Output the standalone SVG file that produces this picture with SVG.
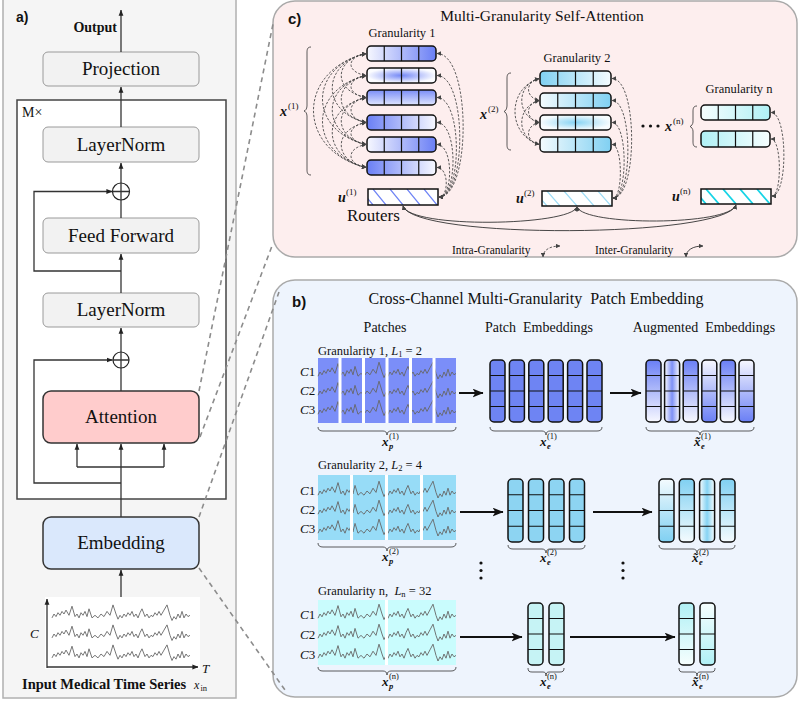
<svg xmlns="http://www.w3.org/2000/svg" width="800" height="702" viewBox="0 0 800 702">
<defs>
<style>
.serif{font-family:"Liberation Serif","Times New Roman",serif;fill:#111}
.sans{font-family:"Liberation Sans",Arial,sans-serif;font-weight:bold;fill:#111}
.box{fill:#f2f2f2;stroke:#9a9a9a;stroke-width:1}
.lbl{font-size:19px;text-anchor:middle}
.ln{stroke:#333;stroke-width:1.3;fill:none}
.dash{stroke:#4a4a4a;stroke-width:0.9;fill:none;stroke-dasharray:2.4 1.6}
.guide{stroke:#8c8c8c;stroke-width:1.6;fill:none;stroke-dasharray:5 4}
.tok{stroke:#111;stroke-width:1.5}
.div{stroke:#111;stroke-width:1.2;fill:none}
.wave{fill:none;stroke:#666;stroke-width:0.9}
.brace{fill:none;stroke:#333;stroke-width:0.8}
.m{font-family:"Liberation Serif","Times New Roman",serif;font-style:italic;font-weight:bold;fill:#111}
.big{stroke:#111;stroke-width:2;fill:none}
.inter{stroke:#333;stroke-width:0.9;fill:none}
</style>
<marker id="arr" viewBox="0 0 8 8" refX="7.5" refY="4" markerWidth="6" markerHeight="6" markerUnits="userSpaceOnUse" orient="auto"><path d="M0,0.8 L8,4 L0,7.2 z" fill="#222"/></marker>
<marker id="da" viewBox="0 0 6 6" refX="5.5" refY="3" markerWidth="4.5" markerHeight="4.5" markerUnits="userSpaceOnUse" orient="auto-start-reverse"><path d="M0,0 L6,3 L0,6 z" fill="#444"/></marker>
<marker id="bg" viewBox="0 0 10 8" refX="9.5" refY="4" markerWidth="11" markerHeight="9" markerUnits="userSpaceOnUse" orient="auto"><path d="M0,0 L10,4 L0,8 L2.5,4 z" fill="#111"/></marker>
<path id="wv" vector-effect="non-scaling-stroke" d="M0,3 L2,0 L4,2 L6,-1 L8,1 L10,-2 L12,0 L14,-3 L17,1 L20,-6 L23,2 L25,0 L27,3 L29,-1 L31,1 L33,-2 L35,2 L37,-4 L40,3 L43,1 L46,3 L49,0 L52,2 L55,-2 L58,1 L61,-7 L64,0 L66,4 L68,1 L70,3 L72,0 L74,2 L76,-1 L78,1 L80,-2 L82,2 L84,0 L86,3 L88,-1 L90,-4 L93,2 L95,0 L97,3 L99,1 L101,2 L103,-1 L105,1 L107,-2 L109,1 L112,-3 L115,-7 L118,1 L120,5 L122,2 L124,4 L126,0 L128,3 L130,-2 L132,3 L134,0 L136,2 L138,1"/>
<linearGradient id="bR"><stop offset="0" stop-color="#f7f8ff"/><stop offset="1" stop-color="#6a7ff5"/></linearGradient>
<linearGradient id="bL"><stop offset="0" stop-color="#6a7ff5"/><stop offset="1" stop-color="#f7f8ff"/></linearGradient>
<radialGradient id="bC"><stop offset="0" stop-color="#7488f6"/><stop offset="1" stop-color="#fbfcff"/></radialGradient>
<linearGradient id="bV" x2="0" y2="1"><stop offset="0" stop-color="#7a8df7"/><stop offset="1" stop-color="#dfe5fe"/></linearGradient>
<linearGradient id="bT" x2="0" y2="1"><stop offset="0" stop-color="#6a7ff5"/><stop offset="1" stop-color="#f7f8ff"/></linearGradient>
<linearGradient id="bB" x2="0" y2="1"><stop offset="0" stop-color="#f7f8ff"/><stop offset="1" stop-color="#6a7ff5"/></linearGradient>
<linearGradient id="bH"><stop offset="0" stop-color="#fbfcff"/><stop offset="0.5" stop-color="#7d90f6"/><stop offset="1" stop-color="#fbfcff"/></linearGradient>
<linearGradient id="cR"><stop offset="0" stop-color="#f4fbfe"/><stop offset="1" stop-color="#80d0f2"/></linearGradient>
<linearGradient id="cL"><stop offset="0" stop-color="#80d0f2"/><stop offset="1" stop-color="#f4fbfe"/></linearGradient>
<radialGradient id="cC"><stop offset="0" stop-color="#86d3f3"/><stop offset="1" stop-color="#f7fcfe"/></radialGradient>
<linearGradient id="cT" x2="0" y2="1"><stop offset="0" stop-color="#80d0f2"/><stop offset="1" stop-color="#f4fbfe"/></linearGradient>
<linearGradient id="cB" x2="0" y2="1"><stop offset="0" stop-color="#f4fbfe"/><stop offset="1" stop-color="#80d0f2"/></linearGradient>
<linearGradient id="cH"><stop offset="0" stop-color="#f7fcfe"/><stop offset="0.5" stop-color="#86d3f3"/><stop offset="1" stop-color="#f7fcfe"/></linearGradient>
<linearGradient id="nR"><stop offset="0" stop-color="#f6fefe"/><stop offset="1" stop-color="#b0f0f5"/></linearGradient>
<linearGradient id="nL"><stop offset="0" stop-color="#b0f0f5"/><stop offset="1" stop-color="#f6fefe"/></linearGradient>
<linearGradient id="nT" x2="0" y2="1"><stop offset="0" stop-color="#b0f0f5"/><stop offset="1" stop-color="#f6fefe"/></linearGradient>
<linearGradient id="nB" x2="0" y2="1"><stop offset="0" stop-color="#f6fefe"/><stop offset="1" stop-color="#b0f0f5"/></linearGradient>
<clipPath id="cu1"><rect x="368" y="189" width="70" height="16"/></clipPath>
<clipPath id="cu2"><rect x="542" y="191" width="70" height="15"/></clipPath>
<clipPath id="cun"><rect x="701" y="189" width="70" height="15"/></clipPath>
</defs>

<g id="panel-a">
<rect x="3" y="-2" width="233" height="700" fill="#f5f5f5" stroke="#b0b0b0" stroke-width="1.5"/>
<text x="16" y="22" class="sans" font-size="14">a)</text>
<rect x="17" y="100" width="209" height="399" fill="#ffffff" stroke="#444" stroke-width="1.5"/>
<text x="22" y="117" class="serif" font-size="14">M×</text>
</g>
<g id="panel-c">
<rect x="273" y="1" width="524" height="256" rx="22" fill="#fdeeee" stroke="#aaaaaa" stroke-width="1.5"/>
<text x="288" y="24" class="sans" font-size="15">c)</text>
<text x="542" y="21" class="serif" font-size="15.5" text-anchor="middle">Multi-Granularity Self-Attention</text>
</g>
<g id="panel-b">
<rect x="273" y="280" width="524" height="417" rx="22" fill="#eef4fd" stroke="#aaaaaa" stroke-width="1.5"/>
<text x="292" y="307" class="sans" font-size="15">b)</text>
<text x="536" y="304" class="serif" font-size="16" text-anchor="middle" xml:space="preserve">Cross-Channel Multi-Granularity  Patch Embedding</text>
<text x="385" y="332" class="serif" font-size="14" text-anchor="middle">Patches</text>
<text x="539" y="332" class="serif" font-size="14" text-anchor="middle" xml:space="preserve">Patch  Embeddings</text>
<text x="704" y="332" class="serif" font-size="14" text-anchor="middle" xml:space="preserve">Augmented  Embeddings</text>
</g>

<g id="projection"><rect x="43" y="52" width="156" height="34" rx="5" class="box"/><text x="121" y="75" class="serif lbl">Projection</text></g>
<g id="layernorm1"><rect x="43" y="127" width="156" height="35" rx="5" class="box"/><text x="121" y="151" class="serif lbl">LayerNorm</text></g>
<g id="add1"><circle cx="121" cy="191.5" r="8.5" fill="#fff" stroke="#222" stroke-width="1.2"/><path d="M112.5,191.5H129.5M121,183V200" class="ln" stroke-width="1"/></g>
<g id="feedforward"><rect x="43" y="218" width="156" height="35" rx="5" class="box"/><text x="121" y="242" class="serif lbl">Feed Forward</text></g>
<g id="layernorm2"><rect x="43" y="293" width="156" height="34" rx="5" class="box"/><text x="121" y="316" class="serif lbl">LayerNorm</text></g>
<g id="add2"><circle cx="121" cy="360" r="8" fill="#fff" stroke="#222" stroke-width="1.2"/><path d="M113,360H129M121,352V368" class="ln" stroke-width="1"/></g>
<g id="attention"><rect x="43" y="391" width="156" height="52" rx="8" fill="#ffcccc" stroke="#333" stroke-width="1.5"/><text x="121" y="423" class="serif lbl">Attention</text></g>
<g id="embedding"><rect x="43" y="517" width="156" height="52" rx="8" fill="#dae8fc" stroke="#333" stroke-width="1.5"/><text x="121" y="549" class="serif lbl">Embedding</text></g>
<g id="input-series">
<rect x="45" y="597" width="155" height="72" fill="#ffffff"/>
<use href="#wv" transform="translate(52,614) scale(1,1.3)" class="wave"/>
<use href="#wv" transform="translate(52,634) scale(1,1.3)" class="wave"/>
<use href="#wv" transform="translate(52,654) scale(1,1.3)" class="wave"/>
<path d="M47,668V599" class="ln" stroke-width="1" marker-end="url(#arr)"/>
<path d="M47,667H198" class="ln" stroke-width="1" marker-end="url(#arr)"/>
<text x="202" y="673" class="serif" font-size="13" font-style="italic">T</text>
<text x="30" y="638" class="serif" font-size="13" font-style="italic">C</text>
<text x="22" y="689" class="serif" font-size="14.5" font-weight="bold">Input Medical Time Series</text>
<text x="194" y="689" class="serif" font-size="12" font-style="italic">x</text><text x="200.5" y="691" class="serif" font-size="8.5">in</text>
</g>
<text x="117" y="32" class="serif" font-size="14" font-weight="bold" text-anchor="end">Output</text>

<g id="connectors">
<path d="M121,52V10" class="ln" marker-end="url(#arr)"/>
<path d="M121,127V87" class="ln" marker-end="url(#arr)"/>
<path d="M121,183V163" class="ln" marker-end="url(#arr)"/>
<path d="M121,218V200" class="ln"/>
<path d="M121,293V254" class="ln" marker-end="url(#arr)"/>
<path d="M121,271H34V191.5H112" class="ln" marker-end="url(#arr)"/>
<path d="M121,352V328" class="ln" marker-end="url(#arr)"/>
<path d="M121,391V368" class="ln"/>
<path d="M121,483H34V360H112.5" class="ln" marker-end="url(#arr)"/>
<path d="M121,517V444" class="ln" marker-end="url(#arr)"/>
<path d="M77,467H164" class="ln"/>
<path d="M77,467V444" class="ln" marker-end="url(#arr)"/>
<path d="M164,467V444" class="ln" marker-end="url(#arr)"/>
<path d="M121,597V570" class="ln" marker-end="url(#arr)"/>
<path d="M199,391L273,24" class="guide"/>
<path d="M200,437L272,246" class="guide"/>
<path d="M199,517L279,292" class="guide"/>
<path d="M199,568L285,690" class="guide"/>

<g marker-start="url(#da)" marker-end="url(#da)">
<path class="dash" d="M366,53.5 C346,56.8 346,72.2 366,75.5"/>
<path class="dash" d="M366,53.5 C333,60.1 333,90.9 366,97.5"/>
<path class="dash" d="M366,53.5 C321,63.9 321,112.1 366,122.5"/>
<path class="dash" d="M366,53.5 C308,67.2 308,130.8 366,144.5"/>
<path class="dash" d="M366,53.5 C296,70.6 296,150.4 366,167.5"/>
<path class="dash" d="M366,75.5 C346,78.8 346,94.2 366,97.5"/>
<path class="dash" d="M366,75.5 C333,82.6 333,115.4 366,122.5"/>
<path class="dash" d="M366,75.5 C321,85.9 321,134.1 366,144.5"/>
<path class="dash" d="M366,75.5 C308,89.3 308,153.7 366,167.5"/>
<path class="dash" d="M366,97.5 C346,101.3 346,118.7 366,122.5"/>
<path class="dash" d="M366,97.5 C333,104.6 333,137.4 366,144.5"/>
<path class="dash" d="M366,97.5 C321,108 321,157 366,167.5"/>
<path class="dash" d="M366,122.5 C346,125.8 346,141.2 366,144.5"/>
<path class="dash" d="M366,122.5 C333,129.3 333,160.7 366,167.5"/>
<path class="dash" d="M366,144.5 C346,148 346,164 366,167.5"/>
<path class="dash" d="M539,78.5 C525,81.8 525,97.2 539,100.5"/>
<path class="dash" d="M539,78.5 C516,85.1 516,115.9 539,122.5"/>
<path class="dash" d="M539,78.5 C507,88.4 507,134.6 539,144.5"/>
<path class="dash" d="M539,100.5 C525,103.8 525,119.2 539,122.5"/>
<path class="dash" d="M539,100.5 C516,107.1 516,137.9 539,144.5"/>
<path class="dash" d="M539,122.5 C525,125.8 525,141.2 539,144.5"/>
<path class="dash" d="M439,197 C471.5,197 471.5,53.5 437,53.5"/>
<path class="dash" d="M439,197 C467,197 467,75.5 437,75.5"/>
<path class="dash" d="M439,197 C462.5,197 462.5,97.5 437,97.5"/>
<path class="dash" d="M439,197 C458,197 458,122.5 437,122.5"/>
<path class="dash" d="M439,197 C453.5,197 453.5,144.5 437,144.5"/>
<path class="dash" d="M439,197 C449,197 449,167.5 437,167.5"/>
<path class="dash" d="M613,198 C638,198 638,78.5 612,78.5"/>
<path class="dash" d="M613,198 C633,198 633,100.5 612,100.5"/>
<path class="dash" d="M613,198 C628,198 628,122.5 612,122.5"/>
<path class="dash" d="M613,198 C623,198 623,144.5 612,144.5"/>
<path class="dash" d="M772,196 C788,196 788,112.5 771,112.5"/>
<path class="dash" d="M772,196 C782,196 782,139 771,139"/>
<path class="dash" d="M543,257 C543,250 550,246 560,246"/>
</g>
<g marker-start="url(#da)" marker-end="url(#da)">
<path class="inter" d="M403,206 C410,229 570,226 577,207"/>
<path class="inter" d="M577,207 C584,226 729,226 736,205"/>
<path class="inter" d="M403,206 C414,240 725,238 736,205"/>
<path class="inter" d="M686,257 C686,250 693,246 703,246"/>
</g>

<path d="M459,393H483" class="big" marker-end="url(#bg)"/>
<path d="M610,393H641" class="big" marker-end="url(#bg)"/>
<path d="M460,512H503" class="big" marker-end="url(#bg)"/>
<path d="M593,512H652" class="big" marker-end="url(#bg)"/>
<path d="M460,637H522" class="big" marker-end="url(#bg)"/>
<path d="M570,637H675" class="big" marker-end="url(#bg)"/>
</g>

<g id="granularity1">
<text x="402" y="37" class="serif" font-size="12.5" text-anchor="middle">Granularity 1</text>
<rect x="367" y="46" width="69" height="15" rx="4" fill="url(#bR)" class="tok"/>
<rect x="367" y="68" width="69" height="15" rx="4" fill="url(#bC)" class="tok"/>
<rect x="367" y="90" width="69" height="15" rx="4" fill="url(#bV)" class="tok"/>
<rect x="367" y="115" width="69" height="15" rx="4" fill="url(#bL)" class="tok"/>
<rect x="367" y="137" width="69" height="15" rx="4" fill="url(#bR)" class="tok"/>
<rect x="367" y="160" width="69" height="15" rx="4" fill="url(#bL)" class="tok"/>
<path class="div" d="M384.25,46v15M401.5,46v15M418.75,46v15M384.25,68v15M401.5,68v15M418.75,68v15M384.25,90v15M401.5,90v15M418.75,90v15M384.25,115v15M401.5,115v15M418.75,115v15M384.25,137v15M401.5,137v15M418.75,137v15M384.25,160v15M401.5,160v15M418.75,160v15"/>
<path class="brace" d="M311,47 C307,47 307,50 307,53 L307,106 C307,109 305,111 304,111 C305,111 307,113 307,116 L307,169 C307,172 307,175 311,175"/>
<text x="280" y="116" class="m" font-size="14">x</text><text x="288" y="109" class="serif" font-size="9">(1)</text>
</g>
<g id="router1">
<rect x="368" y="189" width="70" height="16" fill="#ffffff"/>
<g clip-path="url(#cu1)" stroke="#6f84f5" stroke-width="1.2"><path d="M360,189l13,16M373,189l13,16M390,189l13,16M407,189l13,16M424,189l13,16M441,189l13,16"/></g>
<rect x="368" y="189" width="70" height="16" fill="none" stroke="#111" stroke-width="1.5"/>
<text x="338" y="202" class="m" font-size="14">u</text><text x="346" y="195" class="serif" font-size="9">(1)</text>
<text x="347" y="221" class="serif" font-size="17">Routers</text>
</g>
<g id="granularity2">
<text x="577" y="62" class="serif" font-size="12.5" text-anchor="middle">Granularity 2</text>
<rect x="540" y="71" width="71" height="15" rx="4" fill="url(#cL)" class="tok"/>
<rect x="540" y="93" width="71" height="15" rx="4" fill="url(#cR)" class="tok"/>
<rect x="540" y="115" width="71" height="15" rx="4" fill="url(#cC)" class="tok"/>
<rect x="540" y="137" width="71" height="15" rx="4" fill="url(#cR)" class="tok"/>
<path class="div" d="M557.75,71v15M575.5,71v15M593.25,71v15M557.75,93v15M575.5,93v15M593.25,93v15M557.75,115v15M575.5,115v15M593.25,115v15M557.75,137v15M575.5,137v15M593.25,137v15"/>
<path class="brace" d="M511,73 C507,73 507,76 507,79 L507,106 C507,109 505,111.5 504,111.5 C505,111.5 507,114 507,117 L507,144 C507,147 507,150 511,150"/>
<text x="480" y="119" class="m" font-size="14">x</text><text x="488" y="112" class="serif" font-size="9">(2)</text>
</g>
<g id="router2">
<rect x="542" y="191" width="70" height="15" fill="#ffffff"/>
<g clip-path="url(#cu2)" stroke="#9fdcf5" stroke-width="1.2"><path d="M534,191l13,15M547,191l13,15M564,191l13,15M581,191l13,15M598,191l13,15M615,191l13,15"/></g>
<rect x="542" y="191" width="70" height="15" fill="none" stroke="#111" stroke-width="1.5"/>
<text x="516" y="203" class="m" font-size="14">u</text><text x="524" y="196" class="serif" font-size="9">(2)</text>
</g>
<g id="ellipsis-c"><circle cx="643" cy="126" r="1.6" fill="#111"/><circle cx="650.5" cy="126" r="1.6" fill="#111"/><circle cx="658" cy="126" r="1.6" fill="#111"/></g>
<g id="granularityn">
<text x="739" y="93" class="serif" font-size="12.5" text-anchor="middle">Granularity n</text>
<rect x="701" y="105" width="69" height="15" rx="4" fill="url(#nR)" class="tok"/>
<rect x="701" y="131" width="69" height="16" rx="4" fill="url(#nL)" class="tok"/>
<path class="div" d="M718.25,105v15M735.5,105v15M752.75,105v15M718.25,131v16M735.5,131v16M752.75,131v16"/>
<path class="brace" d="M697,106 C693,106 693,109 693,112 L693,122 C693,124 691,126.5 690,126.5 C691,126.5 693,129 693,131 L693,141 C693,144 693,147 697,147"/>
<text x="665" y="131" class="m" font-size="14">x</text><text x="673" y="124" class="serif" font-size="9">(n)</text>
</g>
<g id="routern">
<rect x="701" y="189" width="70" height="15" fill="#ffffff"/>
<g clip-path="url(#cun)" stroke="#18d4e6" stroke-width="1.8"><path d="M693,189l13,15M706,189l13,15M723,189l13,15M740,189l13,15M757,189l13,15M774,189l13,15"/></g>
<rect x="701" y="189" width="70" height="15" fill="none" stroke="#111" stroke-width="1.5"/>
<text x="672" y="201" class="m" font-size="14">u</text><text x="680" y="194" class="serif" font-size="9">(n)</text>
</g>
<g id="legend">
<text x="452" y="254" class="serif" font-size="11.5">Intra-Granularity</text>
<text x="595" y="254" class="serif" font-size="11.5">Inter-Granularity</text>
</g>

<g id="patches1">
<text x="318" y="355" class="serif" font-size="12.5">Granularity 1, <tspan font-style="italic">L</tspan><tspan font-size="8.5" dy="2">1</tspan><tspan dy="-2"> = 2</tspan></text>
<rect x="318" y="358" width="138" height="65" fill="#7b8ef8"/>
<use href="#wv" transform="translate(318,372) scale(1,1.4)" class="wave"/>
<use href="#wv" transform="translate(318,391) scale(1,1.4)" class="wave"/>
<use href="#wv" transform="translate(318,410) scale(1,1.4)" class="wave"/>
<path d="M340,358v65M363.5,358v65M387,358v65M410.5,358v65M434,358v65" stroke="#ffffff" stroke-width="3"/>
<text x="300" y="376" class="serif" font-size="13"><tspan font-style="italic">C</tspan>1</text>
<text x="300" y="395" class="serif" font-size="13"><tspan font-style="italic">C</tspan>2</text>
<text x="300" y="414" class="serif" font-size="13"><tspan font-style="italic">C</tspan>3</text>
<path class="brace" d="M318,427 C318,430 320,431 323,431 L383,431 C385,431 387,432 387,435 C387,432 389,431 391,431 L451,431 C454,431 456,430 456,427"/>
<text x="382" y="446" class="m" font-size="13">x</text><text x="389" y="449" class="m" font-size="8.5">p</text><text x="389" y="439" class="serif" font-size="8.5">(1)</text>
</g>
<g id="emb1">
<g class="tok" fill="#6e84f3">
<rect x="490" y="360" width="15" height="62" rx="4"/><rect x="509.4" y="360" width="15" height="62" rx="4"/><rect x="528.8" y="360" width="15" height="62" rx="4"/><rect x="548.2" y="360" width="15" height="62" rx="4"/><rect x="567.6" y="360" width="15" height="62" rx="4"/><rect x="587" y="360" width="15" height="62" rx="4"/>
</g>
<path class="div" d="M490,375.5h15M490,391h15M490,406.5h15M509.4,375.5h15M509.4,391h15M509.4,406.5h15M528.8,375.5h15M528.8,391h15M528.8,406.5h15M548.2,375.5h15M548.2,391h15M548.2,406.5h15M567.6,375.5h15M567.6,391h15M567.6,406.5h15M587,375.5h15M587,391h15M587,406.5h15"/>
<path class="brace" d="M490,427 C490,430 492,431 495,431 L542,431 C544,431 546,432 546,435 C546,432 548,431 550,431 L597,431 C600,431 602,430 602,427"/>
<text x="540" y="446" class="m" font-size="13">x</text><text x="547" y="449" class="m" font-size="8.5">e</text><text x="547" y="439" class="serif" font-size="8.5">(1)</text>
</g>
<g id="aug1">
<rect x="646" y="360" width="15" height="62" rx="4" fill="url(#bT)" class="tok"/>
<rect x="664.6" y="360" width="15" height="62" rx="4" fill="url(#bH)" class="tok"/>
<rect x="683.2" y="360" width="15" height="62" rx="4" fill="url(#bT)" class="tok"/>
<rect x="701.8" y="360" width="15" height="62" rx="4" fill="url(#bB)" class="tok"/>
<rect x="720.4" y="360" width="15" height="62" rx="4" fill="url(#bT)" class="tok"/>
<rect x="739" y="360" width="15" height="62" rx="4" fill="url(#bB)" class="tok"/>
<path class="div" d="M646,375.5h15M646,391h15M646,406.5h15M664.6,375.5h15M664.6,391h15M664.6,406.5h15M683.2,375.5h15M683.2,391h15M683.2,406.5h15M701.8,375.5h15M701.8,391h15M701.8,406.5h15M720.4,375.5h15M720.4,391h15M720.4,406.5h15M739,375.5h15M739,391h15M739,406.5h15"/>
<path class="brace" d="M646,427 C646,430 648,431 651,431 L696,431 C698,431 700,432 700,435 C700,432 702,431 704,431 L749,431 C752,431 754,430 754,427"/>
<text x="694" y="446" class="m" font-size="13">x̃</text><text x="701" y="449" class="m" font-size="8.5">e</text><text x="701" y="439" class="serif" font-size="8.5">(1)</text>
</g>

<g id="patches2">
<text x="318" y="469" class="serif" font-size="12.5">Granularity 2, <tspan font-style="italic">L</tspan><tspan font-size="8.5" dy="2">2</tspan><tspan dy="-2"> = 4</tspan></text>
<rect x="318" y="475" width="138" height="65" fill="#97dcf7"/>
<use href="#wv" transform="translate(318,491) scale(1,1.4)" class="wave"/>
<use href="#wv" transform="translate(318,510) scale(1,1.4)" class="wave"/>
<use href="#wv" transform="translate(318,529) scale(1,1.4)" class="wave"/>
<path d="M351.5,475v65M386.5,475v65M421.5,475v65" stroke="#ffffff" stroke-width="3"/>
<text x="300" y="495" class="serif" font-size="13"><tspan font-style="italic">C</tspan>1</text>
<text x="300" y="514" class="serif" font-size="13"><tspan font-style="italic">C</tspan>2</text>
<text x="300" y="533" class="serif" font-size="13"><tspan font-style="italic">C</tspan>3</text>
<path class="brace" d="M318,543 C318,546 320,547 323,547 L383,547 C385,547 387,548 387,551 C387,548 389,547 391,547 L451,547 C454,547 456,546 456,543"/>
<text x="382" y="561" class="m" font-size="13">x</text><text x="389" y="564" class="m" font-size="8.5">p</text><text x="389" y="554" class="serif" font-size="8.5">(2)</text>
</g>
<g id="emb2">
<g class="tok" fill="#8dd4f2">
<rect x="508" y="479" width="15" height="63" rx="4"/><rect x="528.5" y="479" width="15" height="63" rx="4"/><rect x="549" y="479" width="15" height="63" rx="4"/><rect x="569.5" y="479" width="15" height="63" rx="4"/>
</g>
<path class="div" d="M508,494.75h15M508,510.5h15M508,526.25h15M528.5,494.75h15M528.5,510.5h15M528.5,526.25h15M549,494.75h15M549,510.5h15M549,526.25h15M569.5,494.75h15M569.5,510.5h15M569.5,526.25h15"/>
<path class="brace" d="M508,545 C508,548 510,549 513,549 L542,549 C544,549 546,550 546,553 C546,550 548,549 550,549 L580,549 C583,549 585,548 585,545"/>
<text x="540" y="562" class="m" font-size="13">x</text><text x="547" y="565" class="m" font-size="8.5">e</text><text x="547" y="555" class="serif" font-size="8.5">(2)</text>
</g>
<g id="aug2">
<rect x="659" y="479" width="15" height="63" rx="4" fill="url(#cB)" class="tok"/>
<rect x="679.3" y="479" width="15" height="63" rx="4" fill="url(#cT)" class="tok"/>
<rect x="699.6" y="479" width="15" height="63" rx="4" fill="url(#cH)" class="tok"/>
<rect x="720" y="479" width="15" height="63" rx="4" fill="url(#cT)" class="tok"/>
<path class="div" d="M659,494.75h15M659,510.5h15M659,526.25h15M679.3,494.75h15M679.3,510.5h15M679.3,526.25h15M699.6,494.75h15M699.6,510.5h15M699.6,526.25h15M720,494.75h15M720,510.5h15M720,526.25h15"/>
<path class="brace" d="M659,545 C659,548 661,549 664,549 L693,549 C695,549 697,550 697,553 C697,550 699,549 701,549 L730,549 C733,549 735,548 735,545"/>
<text x="692" y="562" class="m" font-size="13">x̃</text><text x="699" y="565" class="m" font-size="8.5">e</text><text x="699" y="555" class="serif" font-size="8.5">(2)</text>
</g>
<g id="vdots"><circle cx="481" cy="563" r="1.6" fill="#111"/><circle cx="481" cy="570.5" r="1.6" fill="#111"/><circle cx="481" cy="578" r="1.6" fill="#111"/><circle cx="623" cy="563" r="1.6" fill="#111"/><circle cx="623" cy="570.5" r="1.6" fill="#111"/><circle cx="623" cy="578" r="1.6" fill="#111"/></g>

<g id="patchesn">
<text x="318" y="595" class="serif" font-size="12.5" xml:space="preserve">Granularity n,  <tspan font-style="italic">L</tspan><tspan font-size="8.5" dy="2">n</tspan><tspan dy="-2"> = 32</tspan></text>
<rect x="318" y="600" width="138" height="65" fill="#c9fcfd"/>
<use href="#wv" transform="translate(318,614) scale(1,1.4)" class="wave"/>
<use href="#wv" transform="translate(318,634) scale(1,1.4)" class="wave"/>
<use href="#wv" transform="translate(318,654) scale(1,1.4)" class="wave"/>
<path d="M386.5,600v65" stroke="#ffffff" stroke-width="3"/>
<text x="300" y="619" class="serif" font-size="13"><tspan font-style="italic">C</tspan>1</text>
<text x="300" y="639" class="serif" font-size="13"><tspan font-style="italic">C</tspan>2</text>
<text x="300" y="659" class="serif" font-size="13"><tspan font-style="italic">C</tspan>3</text>
<path class="brace" d="M318,667 C318,670 320,671 323,671 L383,671 C385,671 387,672 387,675 C387,672 389,671 391,671 L451,671 C454,671 456,670 456,667"/>
<text x="382" y="686" class="m" font-size="13">x</text><text x="389" y="689" class="m" font-size="8.5">p</text><text x="389" y="679" class="serif" font-size="8.5">(n)</text>
</g>
<g id="embn">
<g class="tok" fill="#c6f3f5"><rect x="528" y="603" width="15" height="62" rx="4"/><rect x="549" y="603" width="15" height="62" rx="4"/></g>
<path class="div" d="M528,618.5h15M528,634h15M528,649.5h15M549,618.5h15M549,634h15M549,649.5h15"/>
<path class="brace" d="M528,668 C528,671 529,672 532,672 L543,672 C545,672 546,673 546,676 C546,673 547,672 549,672 L560,672 C563,672 564,671 564,668"/>
<text x="540" y="686" class="m" font-size="13">x</text><text x="547" y="689" class="m" font-size="8.5">e</text><text x="547" y="679" class="serif" font-size="8.5">(n)</text>
</g>
<g id="augn">
<rect x="679" y="603" width="15" height="62" rx="4" fill="url(#nT)" class="tok"/>
<rect x="700" y="603" width="15" height="62" rx="4" fill="url(#nB)" class="tok"/>
<path class="div" d="M679,618.5h15M679,634h15M679,649.5h15M700,618.5h15M700,634h15M700,649.5h15"/>
<path class="brace" d="M679,668 C679,671 680,672 683,672 L694,672 C696,672 697,673 697,676 C697,673 698,672 700,672 L711,672 C714,672 715,671 715,668"/>
<text x="692" y="686" class="m" font-size="13">x̃</text><text x="699" y="689" class="m" font-size="8.5">e</text><text x="699" y="679" class="serif" font-size="8.5">(n)</text>
</g>
</svg>
